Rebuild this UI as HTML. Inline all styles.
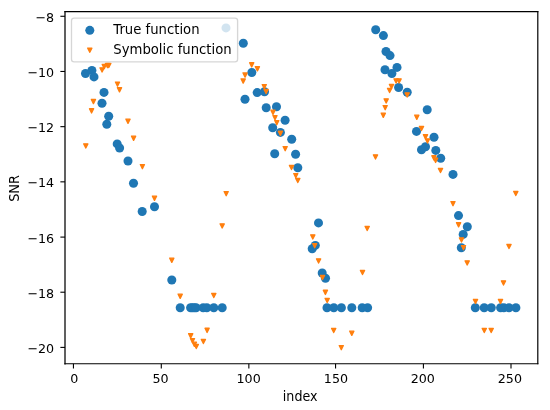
<!DOCTYPE html>
<html><head><meta charset="utf-8"><title>SNR plot</title><style>html,body{margin:0;padding:0;background:#fff;overflow:hidden}svg{display:block}</style></head><body>
<svg width="550" height="410" viewBox="0 0 550 410">
<rect width="550" height="410" fill="#fff"/>
<g fill="#1f77b4"><circle cx="85.5" cy="73.50" r="4.52"/><circle cx="91.9" cy="70.40" r="4.52"/><circle cx="94.0" cy="76.90" r="4.52"/><circle cx="102.0" cy="103.20" r="4.52"/><circle cx="104.0" cy="92.40" r="4.52"/><circle cx="106.8" cy="124.20" r="4.52"/><circle cx="108.7" cy="116.20" r="4.52"/><circle cx="117.2" cy="143.90" r="4.52"/><circle cx="119.6" cy="148.00" r="4.52"/><circle cx="128.0" cy="161.00" r="4.52"/><circle cx="133.5" cy="183.20" r="4.52"/><circle cx="142.2" cy="211.50" r="4.52"/><circle cx="154.5" cy="206.70" r="4.52"/><circle cx="171.8" cy="280.00" r="4.52"/><circle cx="180.2" cy="307.80" r="4.52"/><circle cx="190.6" cy="307.80" r="4.52"/><circle cx="192.4" cy="307.80" r="4.52"/><circle cx="194.3" cy="307.80" r="4.52"/><circle cx="196.1" cy="307.80" r="4.52"/><circle cx="203.2" cy="307.80" r="4.52"/><circle cx="206.8" cy="307.80" r="4.52"/><circle cx="213.8" cy="307.80" r="4.52"/><circle cx="222.2" cy="307.80" r="4.52"/><circle cx="226.0" cy="27.90" r="4.52"/><circle cx="243.3" cy="43.20" r="4.52"/><circle cx="245.0" cy="99.20" r="4.52"/><circle cx="251.8" cy="72.50" r="4.52"/><circle cx="257.2" cy="92.60" r="4.52"/><circle cx="264.5" cy="91.80" r="4.52"/><circle cx="266.2" cy="107.70" r="4.52"/><circle cx="272.7" cy="127.80" r="4.52"/><circle cx="274.7" cy="153.70" r="4.52"/><circle cx="276.5" cy="106.70" r="4.52"/><circle cx="280.4" cy="132.40" r="4.52"/><circle cx="285.1" cy="120.20" r="4.52"/><circle cx="291.7" cy="139.20" r="4.52"/><circle cx="295.6" cy="154.30" r="4.52"/><circle cx="297.8" cy="167.70" r="4.52"/><circle cx="312.2" cy="248.70" r="4.52"/><circle cx="315.3" cy="245.40" r="4.52"/><circle cx="318.5" cy="222.90" r="4.52"/><circle cx="322.2" cy="273.00" r="4.52"/><circle cx="325.5" cy="278.20" r="4.52"/><circle cx="327.0" cy="307.70" r="4.52"/><circle cx="333.8" cy="307.70" r="4.52"/><circle cx="341.4" cy="307.70" r="4.52"/><circle cx="351.8" cy="307.70" r="4.52"/><circle cx="362.2" cy="307.70" r="4.52"/><circle cx="367.6" cy="307.70" r="4.52"/><circle cx="375.7" cy="29.70" r="4.52"/><circle cx="383.4" cy="35.60" r="4.52"/><circle cx="385.0" cy="69.70" r="4.52"/><circle cx="386.0" cy="51.50" r="4.52"/><circle cx="390.0" cy="55.60" r="4.52"/><circle cx="391.9" cy="73.50" r="4.52"/><circle cx="397.0" cy="67.40" r="4.52"/><circle cx="398.6" cy="87.50" r="4.52"/><circle cx="407.2" cy="92.30" r="4.52"/><circle cx="416.5" cy="131.40" r="4.52"/><circle cx="421.5" cy="149.70" r="4.52"/><circle cx="425.5" cy="146.70" r="4.52"/><circle cx="427.2" cy="109.70" r="4.52"/><circle cx="434.0" cy="137.20" r="4.52"/><circle cx="435.8" cy="150.40" r="4.52"/><circle cx="440.7" cy="158.30" r="4.52"/><circle cx="453.0" cy="174.40" r="4.52"/><circle cx="458.5" cy="215.60" r="4.52"/><circle cx="461.3" cy="247.70" r="4.52"/><circle cx="463.2" cy="234.40" r="4.52"/><circle cx="467.3" cy="226.70" r="4.52"/><circle cx="475.3" cy="307.70" r="4.52"/><circle cx="484.2" cy="307.70" r="4.52"/><circle cx="491.3" cy="307.70" r="4.52"/><circle cx="500.6" cy="307.70" r="4.52"/><circle cx="503.8" cy="307.70" r="4.52"/><circle cx="509.0" cy="307.70" r="4.52"/><circle cx="515.9" cy="307.70" r="4.52"/></g>
<g fill="#ff7f0e" stroke="#ff7f0e" stroke-width="1.32" stroke-linejoin="round"><path d="M85.80 148.04L83.71 143.86L87.89 143.86Z"/><path d="M91.56 112.94L89.47 108.76L93.65 108.76Z"/><path d="M93.44 103.64L91.35 99.46L95.53 99.46Z"/><path d="M102.10 72.04L100.01 67.86L104.19 67.86Z"/><path d="M104.30 68.64L102.21 64.46L106.39 64.46Z"/><path d="M107.50 67.64L105.41 63.46L109.59 63.46Z"/><path d="M108.80 67.54L106.71 63.36L110.89 63.36Z"/><path d="M117.50 86.24L115.41 82.06L119.59 82.06Z"/><path d="M119.50 91.84L117.41 87.66L121.59 87.66Z"/><path d="M128.00 123.34L125.91 119.16L130.09 119.16Z"/><path d="M133.60 140.34L131.51 136.16L135.69 136.16Z"/><path d="M142.40 168.74L140.31 164.56L144.49 164.56Z"/><path d="M154.50 200.34L152.41 196.16L156.59 196.16Z"/><path d="M171.80 262.34L169.71 258.16L173.89 258.16Z"/><path d="M180.20 298.34L178.11 294.16L182.29 294.16Z"/><path d="M190.70 337.84L188.61 333.66L192.79 333.66Z"/><path d="M192.50 342.74L190.41 338.56L194.59 338.56Z"/><path d="M194.40 346.34L192.31 342.16L196.49 342.16Z"/><path d="M196.30 348.54L194.21 344.36L198.39 344.36Z"/><path d="M203.40 343.54L201.31 339.36L205.49 339.36Z"/><path d="M207.10 332.44L205.01 328.26L209.19 328.26Z"/><path d="M213.80 297.54L211.71 293.36L215.89 293.36Z"/><path d="M222.20 228.04L220.11 223.86L224.29 223.86Z"/><path d="M226.20 195.74L224.11 191.56L228.29 191.56Z"/><path d="M243.20 83.14L241.11 78.96L245.29 78.96Z"/><path d="M245.10 77.14L243.01 72.96L247.19 72.96Z"/><path d="M251.70 66.94L249.61 62.76L253.79 62.76Z"/><path d="M257.40 70.84L255.31 66.66L259.49 66.66Z"/><path d="M264.30 88.74L262.21 84.56L266.39 84.56Z"/><path d="M266.10 93.54L264.01 89.36L268.19 89.36Z"/><path d="M273.00 114.34L270.91 110.16L275.09 110.16Z"/><path d="M275.00 119.74L272.91 115.56L277.09 115.56Z"/><path d="M276.80 124.74L274.71 120.56L278.89 120.56Z"/><path d="M280.40 135.44L278.31 131.26L282.49 131.26Z"/><path d="M285.20 150.74L283.11 146.56L287.29 146.56Z"/><path d="M291.50 169.54L289.41 165.36L293.59 165.36Z"/><path d="M295.80 177.74L293.71 173.56L297.89 173.56Z"/><path d="M297.80 182.54L295.71 178.36L299.89 178.36Z"/><path d="M312.80 239.04L310.71 234.86L314.89 234.86Z"/><path d="M314.70 247.74L312.61 243.56L316.79 243.56Z"/><path d="M318.60 263.04L316.51 258.86L320.69 258.86Z"/><path d="M322.50 279.54L320.41 275.36L324.59 275.36Z"/><path d="M325.40 294.44L323.31 290.26L327.49 290.26Z"/><path d="M327.20 302.54L325.11 298.36L329.29 298.36Z"/><path d="M333.70 332.54L331.61 328.36L335.79 328.36Z"/><path d="M341.30 349.74L339.21 345.56L343.39 345.56Z"/><path d="M351.80 335.34L349.71 331.16L353.89 331.16Z"/><path d="M362.50 274.54L360.41 270.36L364.59 270.36Z"/><path d="M367.20 230.54L365.11 226.36L369.29 226.36Z"/><path d="M375.50 159.04L373.41 154.86L377.59 154.86Z"/><path d="M383.30 117.34L381.21 113.16L385.39 113.16Z"/><path d="M385.20 109.74L383.11 105.56L387.29 105.56Z"/><path d="M386.20 103.04L384.11 98.86L388.29 98.86Z"/><path d="M389.60 92.54L387.51 88.36L391.69 88.36Z"/><path d="M391.50 88.54L389.41 84.36L393.59 84.36Z"/><path d="M396.10 83.04L394.01 78.86L398.19 78.86Z"/><path d="M399.10 83.04L397.01 78.86L401.19 78.86Z"/><path d="M407.20 97.04L405.11 92.86L409.29 92.86Z"/><path d="M416.80 119.34L414.71 115.16L418.89 115.16Z"/><path d="M421.50 130.54L419.41 126.36L423.59 126.36Z"/><path d="M425.50 138.84L423.41 134.66L427.59 134.66Z"/><path d="M427.50 143.04L425.41 138.86L429.59 138.86Z"/><path d="M433.90 159.94L431.81 155.76L435.99 155.76Z"/><path d="M435.60 162.44L433.51 158.26L437.69 158.26Z"/><path d="M440.50 172.54L438.41 168.36L442.59 168.36Z"/><path d="M453.00 205.74L450.91 201.56L455.09 201.56Z"/><path d="M458.60 226.84L456.51 222.66L460.69 222.66Z"/><path d="M461.50 242.04L459.41 237.86L463.59 237.86Z"/><path d="M463.50 249.74L461.41 245.56L465.59 245.56Z"/><path d="M467.20 265.04L465.11 260.86L469.29 260.86Z"/><path d="M475.50 303.54L473.41 299.36L477.59 299.36Z"/><path d="M484.30 332.54L482.21 328.36L486.39 328.36Z"/><path d="M491.20 332.54L489.11 328.36L493.29 328.36Z"/><path d="M500.50 303.54L498.41 299.36L502.59 299.36Z"/><path d="M503.50 285.04L501.41 280.86L505.59 280.86Z"/><path d="M509.00 248.54L506.91 244.36L511.09 244.36Z"/><path d="M515.80 195.54L513.71 191.36L517.89 191.36Z"/></g>
<g stroke="#000" stroke-width="1.1"><line x1="73.44" y1="363.75" x2="73.44" y2="368.38"/><line x1="161.29" y1="363.75" x2="161.29" y2="368.38"/><line x1="248.85" y1="363.75" x2="248.85" y2="368.38"/><line x1="335.56" y1="363.75" x2="335.56" y2="368.38"/><line x1="423.41" y1="363.75" x2="423.41" y2="368.38"/><line x1="511.0" y1="363.75" x2="511.0" y2="368.38"/><line x1="65.0" y1="16.28" x2="60.37" y2="16.28"/><line x1="65.0" y1="71.46" x2="60.37" y2="71.46"/><line x1="65.0" y1="126.66" x2="60.37" y2="126.66"/><line x1="65.0" y1="181.84" x2="60.37" y2="181.84"/><line x1="65.0" y1="237.1" x2="60.37" y2="237.1"/><line x1="65.0" y1="292.21" x2="60.37" y2="292.21"/><line x1="65.0" y1="347.4" x2="60.37" y2="347.4"/></g>
<g stroke="#000" stroke-linecap="square"><line x1="65.0" y1="11.6" x2="65.0" y2="363.75" stroke-width="1.25"/><line x1="537.8" y1="11.6" x2="537.8" y2="363.75" stroke-width="1.2"/><line x1="65.0" y1="11.6" x2="537.8" y2="11.6" stroke-width="1.1"/><line x1="65.0" y1="363.75" x2="537.8" y2="363.75" stroke-width="1.2"/></g>
<g fill="#000"><text transform="translate(74.35 383.30) scale(0.985 1)" font-family="'DejaVu Sans', 'Liberation Sans', sans-serif" font-size="12.9" text-anchor="middle">0</text><text transform="translate(160.60 383.30) scale(0.985 1)" font-family="'DejaVu Sans', 'Liberation Sans', sans-serif" font-size="12.9" text-anchor="middle">50</text><text transform="translate(248.65 383.30) scale(0.985 1)" font-family="'DejaVu Sans', 'Liberation Sans', sans-serif" font-size="12.9" text-anchor="middle">100</text><text transform="translate(335.95 383.30) scale(0.985 1)" font-family="'DejaVu Sans', 'Liberation Sans', sans-serif" font-size="12.9" text-anchor="middle">150</text><text transform="translate(422.80 383.30) scale(0.985 1)" font-family="'DejaVu Sans', 'Liberation Sans', sans-serif" font-size="12.9" text-anchor="middle">200</text><text transform="translate(509.90 383.30) scale(0.985 1)" font-family="'DejaVu Sans', 'Liberation Sans', sans-serif" font-size="12.9" text-anchor="middle">250</text></g>
<g fill="#000"><text transform="translate(54.20 22.23) scale(0.985 1)" font-family="'DejaVu Sans', 'Liberation Sans', sans-serif" font-size="12.9" text-anchor="end">−8</text><text transform="translate(54.20 76.61) scale(0.985 1)" font-family="'DejaVu Sans', 'Liberation Sans', sans-serif" font-size="12.9" text-anchor="end">−10</text><text transform="translate(54.20 131.96) scale(0.985 1)" font-family="'DejaVu Sans', 'Liberation Sans', sans-serif" font-size="12.9" text-anchor="end">−12</text><text transform="translate(54.20 187.24) scale(0.985 1)" font-family="'DejaVu Sans', 'Liberation Sans', sans-serif" font-size="12.9" text-anchor="end">−14</text><text transform="translate(54.20 242.80) scale(0.985 1)" font-family="'DejaVu Sans', 'Liberation Sans', sans-serif" font-size="12.9" text-anchor="end">−16</text><text transform="translate(54.20 298.01) scale(0.985 1)" font-family="'DejaVu Sans', 'Liberation Sans', sans-serif" font-size="12.9" text-anchor="end">−18</text><text transform="translate(54.20 352.55) scale(0.985 1)" font-family="'DejaVu Sans', 'Liberation Sans', sans-serif" font-size="12.9" text-anchor="end">−20</text></g>
<text transform="translate(300.20 400.60) scale(0.96 1)" font-family="'DejaVu Sans', 'Liberation Sans', sans-serif" font-size="13.23" text-anchor="middle">index</text>
<text transform="translate(18.75 188.50) rotate(-90) scale(0.975 1)" font-family="'DejaVu Sans', 'Liberation Sans', sans-serif" font-size="13.23" text-anchor="middle">SNR</text>
<rect x="71.5" y="18.2" width="166.10" height="43.60" rx="2.65" ry="2.65" fill="#fff" fill-opacity="0.8" stroke="#ccc" stroke-opacity="0.8" stroke-width="1.32"/>
<circle cx="89.8" cy="30.35" r="4.52" fill="#1f77b4"/>
<path d="M89.80 52.29L87.71 48.11L91.89 48.11Z" fill="#ff7f0e" stroke="#ff7f0e" stroke-width="1.32" stroke-linejoin="round"/>
<g font-family="'DejaVu Sans', 'Liberation Sans', sans-serif" font-size="13.23" fill="#000"><text x="113.3" y="33.65">True function</text><text x="113.3" y="53.95">Symbolic function</text></g>
</svg>
</body></html>
